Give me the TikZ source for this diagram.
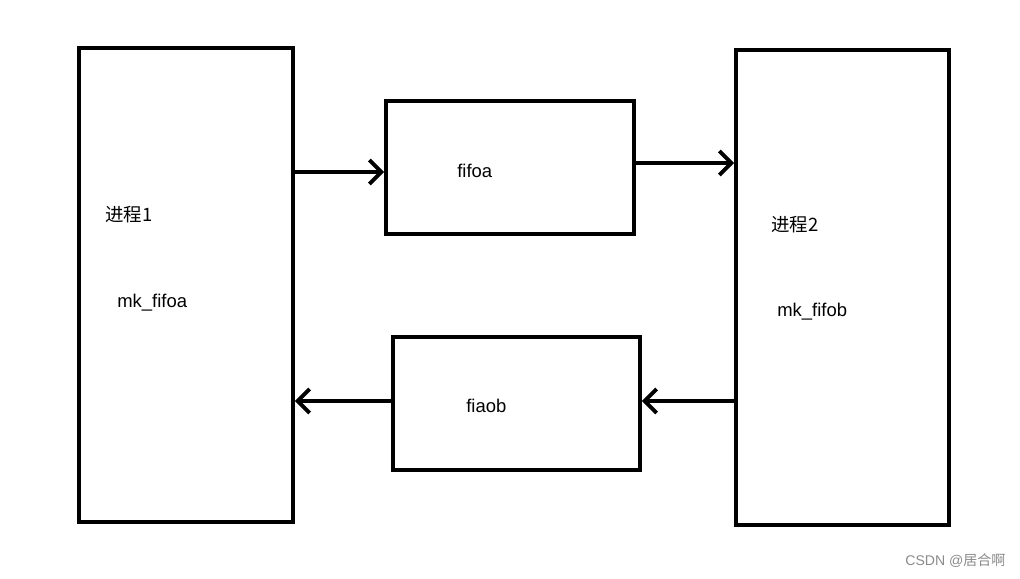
\documentclass[tikz,border=0pt]{standalone}
\usepackage{fontspec}
\setmainfont{Liberation Sans}
\newfontfamily\cjk{Noto Sans CJK SC}
\definecolor{inkcol}{HTML}{000000}
\definecolor{markcol}{HTML}{8a8a8a}
\usetikzlibrary{arrows.meta}

\begin{document}
\begin{tikzpicture}[x=0.02cm, y=-0.02cm,
  box/.style={draw=inkcol, line width=2.2pt, inner sep=0pt},
  flow/.style={-{Straight Barb[length=2.4mm, width=4.8mm]}, inkcol, line width=2.2pt},
  lbl/.style={anchor=west, inner sep=0pt, font=\fontsize{10.5}{12}\selectfont}]

\useasboundingbox (0,0) rectangle (1020,578);

% === Processes ===
\node[box, minimum width=4.28cm, minimum height=9.48cm] (proc1) at (186,285) {};
\node[box, minimum width=4.26cm, minimum height=9.5cm] (proc2) at (842.5,287.5) {};

% === Pipes ===
\node[box, minimum width=4.96cm, minimum height=2.66cm] (fifoa) at (510,167.5) {};
\node[box, minimum width=4.94cm, minimum height=2.66cm] (fiaob) at (516.5,403.5) {};

% === Arrow levels ===
\coordinate (ya) at (0,172);
\coordinate (yb) at (0,163);
\coordinate (yc) at (0,401);

\draw[flow] (proc1.east |- ya) -- (fifoa.west |- ya);
\draw[flow] (fifoa.east |- yb) -- (proc2.west |- yb);
\draw[flow] (proc2.west |- yc) -- (fiaob.east |- yc);
\draw[flow] (fiaob.west |- yc) -- (proc1.east |- yc);

% === Labels ===
\node[lbl] (name1) at (105,215) {\cjk 进程1};
\node[lbl] (mk1) at (117,303) {mk\_fifoa};
\node[lbl] (name2) at (771,225) {\cjk 进程2};
\node[lbl] (mk2) at (777,312) {mk\_fifob};
\node[lbl] (txta) at (457,171) {fifoa};
\node[lbl] (txtb) at (466,406) {fiaob};

\node[lbl, markcol, font=\fontsize{8}{10}\selectfont] (mark) at (905,561)
  {CSDN @{\cjk 居合啊}};

\end{tikzpicture}
\end{document}
